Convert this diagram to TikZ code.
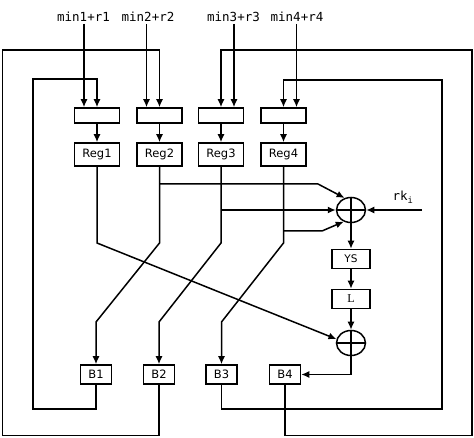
\documentclass[tikz,border=0pt]{standalone}
\usepackage{fontspec}
\setmainfont{DejaVu Sans}
\newfontfamily\monof{DejaVu Sans Mono}
\newfontfamily\seriff{Liberation Serif}
\usetikzlibrary{arrows.meta,shapes.geometric}
\tikzset{
  ln/.style={line width=1.5pt},
  arr/.style={ln,-{Latex[length=8pt,width=7pt]}},
  topbox/.style={draw,ln,minimum width=45pt,minimum height=15pt,inner sep=0pt},
  regbox/.style={draw,ln,minimum width=45pt,minimum height=23pt,inner sep=0pt,font=\fontsize{11.5}{12}\selectfont},
  bbox/.style={draw,ln,minimum width=31pt,minimum height=19pt,inner sep=0pt,font=\fontsize{11.5}{12}\selectfont},
  fbox/.style={draw,ln,minimum width=38pt,minimum height=19pt,inner sep=0pt,font=\fontsize{10.5}{12}\selectfont},
  xorn/.style={draw,ln,ellipse,minimum width=29pt,minimum height=25pt,inner sep=0pt},
  inlbl/.style={font=\monof\fontsize{12.5}{14}\selectfont,inner sep=1pt}
}
\begin{document}
\begin{tikzpicture}[x=1pt,y=-1pt]
\useasboundingbox (0,0) rectangle (474,438);
% top boxes
\node[topbox] (t1) at (97,115.5) {};
\node[topbox] (t2) at (159.5,115.5) {};
\node[topbox] (t3) at (221,115.5) {};
\node[topbox] (t4) at (283.5,115.5) {};
% registers
\node[regbox] (r1) at (97,154.5) {Reg1};
\node[regbox] (r2) at (159.5,154.5) {Reg2};
\node[regbox] (r3) at (221,154.5) {Reg3};
\node[regbox] (r4) at (283.5,154.5) {Reg4};
% B boxes
\node[bbox] (b1) at (96,374.5) {B1};
\node[bbox] (b2) at (159,374.5) {B2};
\node[bbox] (b3) at (221.5,374.5) {B3};
\node[bbox] (b4) at (285,374.5) {B4};
% xor, YS, L
\node[xorn] (x1) at (351,210) {};
\node[xorn] (x2) at (351,343) {};
\draw[ln] (x1.north) -- (x1.south) (x1.west) -- (x1.east);
\draw[ln] (x2.north) -- (x2.south) (x2.west) -- (x2.east);
\node[fbox] (ys) at (351,259) {YS};
\node[fbox,font=\seriff\fontsize{12}{12}\selectfont] (L) at (351,299) {L};
% input labels
\node[inlbl] (in1) at (83.5,17) {min1+r1};
\node[inlbl] (in2) at (148,17) {min2+r2};
\node[inlbl] (in3) at (233.5,17) {min3+r3};
\node[inlbl] (in4) at (297,17) {min4+r4};
\node[inlbl] (rk) at (403,197) {rk\textsubscript{i}};
% coordinates
\coordinate (i1) at (84,24);
\coordinate (i2) at (146.5,24);
\coordinate (i3) at (234,24);
\coordinate (i4) at (296.5,24);
\coordinate (rkin) at (422,210);
% input arrows
\draw[arr] (i1) -- (i1 |- t1.north);
\draw[arr] (i2) -- (i2 |- t2.north);
\draw[arr] (i3) -- (i3 |- t3.north);
\draw[arr] (i4) -- (i4 |- t4.north);
% top box to regs
\foreach \k in {1,2,3,4} \draw[arr] (t\k.south) -- (r\k.north);
% feedback loops
\coordinate (lo1) at (2.5,435.5);
\coordinate (lo2) at (2.5,50);
\coordinate (li1) at (33,409);
\coordinate (li2) at (33,79);
\coordinate (ri1) at (442,409);
\coordinate (ri2) at (442,80);
\coordinate (ro1) at (472,435.5);
\coordinate (ro2) at (472,50);
\draw[arr] (b2.south) |- (lo1) -- (lo2) -| (t2.north);
\draw[arr] (b1.south) |- (li1) -- (li2) -| (t1.north);
\draw[arr] (b3.south) |- (ri1) -- (ri2) -| (t4.north);
\draw[arr] (b4.south) |- (ro1) -- (ro2) -| (t3.north);
% register outputs to B boxes
\coordinate (k1) at (97,243);
\draw[arr] (r1.south) -- (k1) -- (x2.165);
\draw[arr] (r2.south) -- (159.5,243) -- (96,322) -- (b1.north);
\draw[arr] (r3.south) -- (221,243) -- (159,322) -- (b2.north);
\draw[arr] (r4.south) -- (283.5,243) -- (221.5,322) -- (b3.north);
% branches to xor
\draw[arr] (159.5,184) -- (318,184) -- (x1.118);
\draw[arr] (221,210) -- (x1.west);
\draw[arr] (283.5,231) -- (322,231) -- (x1.-122);
\draw[arr] (rkin) -- (x1.east);
% vertical chain
\draw[arr] (x1.south) -- (ys.north);
\draw[arr] (ys.south) -- (L.north);
\draw[arr] (L.south) -- (x2.north);
\draw[arr] (x2.south) |- (b4.east);
\end{tikzpicture}
\end{document}
